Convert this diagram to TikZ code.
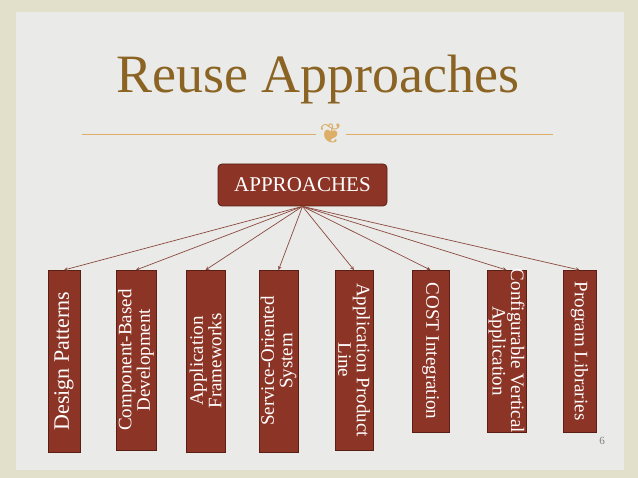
\documentclass[tikz,border=0pt]{standalone}
\usepackage{fontspec}
\setmainfont{Liberation Serif}
\newfontfamily\symfont{DejaVu Sans}
\definecolor{outerbg}{HTML}{E2DFCB}
\definecolor{innerbg}{HTML}{EAEAE8}
\definecolor{boxred}{HTML}{8C3526}
\definecolor{boxedge}{HTML}{5A1E14}
\definecolor{titlec}{HTML}{8B6423}
\definecolor{goldc}{HTML}{DCAE68}
\definecolor{arrowc}{HTML}{8A4A3E}
\tikzset{
  itembox/.style={draw=boxedge, fill=boxred, text=white, inner sep=0pt, line width=0.8pt},
  conn/.style={-stealth, draw=arrowc, line width=0.7pt},
  lbl/.style={text=white, align=center, inner sep=0pt, font=\fontsize{19}{18.5}\selectfont}
}
\begin{document}
\begin{tikzpicture}[x=1pt,y=-1pt]
\fill[outerbg] (0,0) rectangle (638,478);
\fill[innerbg] (16,12) rectangle (624,470);
\useasboundingbox (0,0) rectangle (638,478);
\node[text=titlec, font=\fontsize{54}{54}\selectfont] (title) at (318,80) {Reuse Approaches};
\draw[goldc, line width=1pt] (82,135) -- (316,135) (346,135) -- (553,135);
\node[text=goldc, font=\symfont\fontsize{28}{28}\selectfont] (orn) at (331,134) {❦};
\node[itembox, rounded corners=4pt, minimum width=169pt, minimum height=42pt, font=\fontsize{21}{21}\selectfont] (ap) at (302.5,185) {APPROACHES};
% boxes
\foreach \n/\xa/\xb/\yb in {b1/48/80/452, b2/116/156/450, b3/186/225/452, b4/259/298/452, b5/335/373/450, b6/412/449/432, b7/487/526/432, b8/563/596/432}{
  \draw[itembox] (\xa,270) rectangle (\xb,\yb);
  \coordinate (\n) at ({(\xa+\xb)/2},270);
  \coordinate (\n c) at ({(\xa+\xb)/2},{(270+\yb)/2});
}
\node[lbl, rotate=90, font=\fontsize{22}{22}\selectfont] (t1) at (b1c) {Design Patterns};
\node[lbl, rotate=90] (t2) at (b2c) {Component-Based\\Development};
\node[lbl, rotate=90] (t3) at (b3c) {Application\\Frameworks};
\node[lbl, rotate=90] (t4) at (b4c) {Service-Oriented\\System};
\node[lbl, rotate=-90] (t5) at (b5c) {Application Product\\Line};
\node[lbl, rotate=-90] (t6) at (b6c) {COST Integration};
\node[lbl, rotate=-90] (t7) at (b7c) {Configurable Vertical\\Application};
\node[lbl, rotate=-90] (t8) at (b8c) {Program Libraries};
\foreach \n in {b1,b2,b3,b4,b5,b6,b7,b8}{
  \draw[conn] (ap.south) -- (\n);
}
\node[text=gray, font=\fontsize{11}{11}\selectfont] (pg) at (602,441) {6};
\end{tikzpicture}
\end{document}
